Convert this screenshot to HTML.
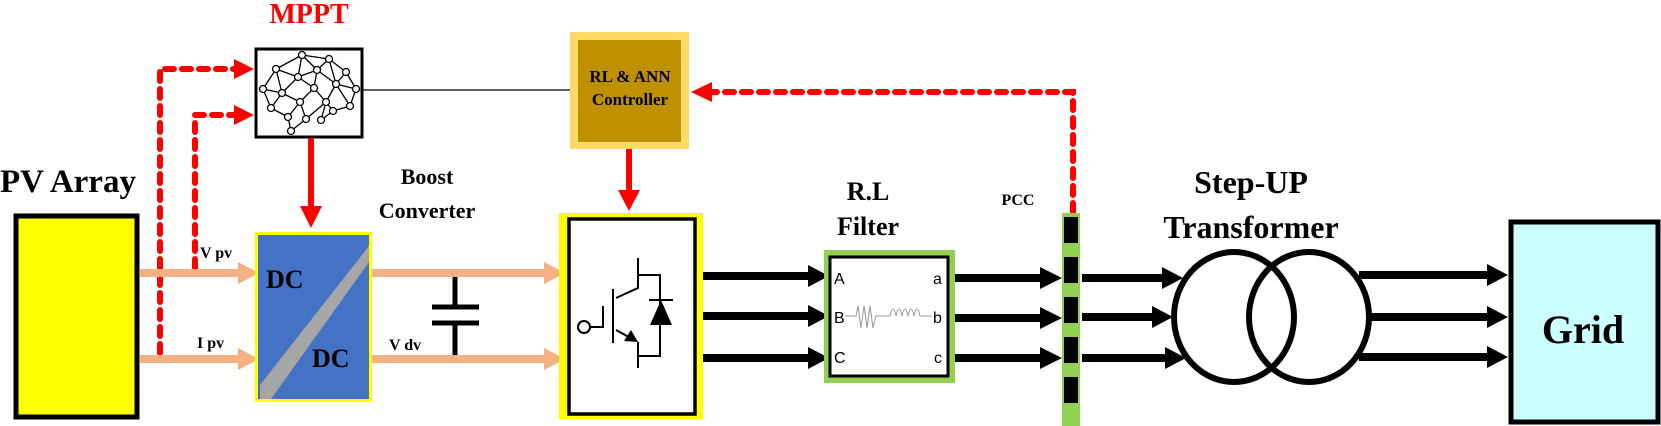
<!DOCTYPE html>
<html><head><meta charset="utf-8"><style>
html,body{margin:0;padding:0;background:#fff;}
svg{display:block;}
text{font-family:"Liberation Serif",serif;font-weight:bold;}
.s{font-family:"Liberation Sans",sans-serif;font-weight:normal;}
</style></head><body>
<svg width="1661" height="426" viewBox="0 0 1661 426" xmlns="http://www.w3.org/2000/svg">

<text x="309" y="23" font-size="28" fill="#ff0000" text-anchor="middle">MPPT</text>
<text x="0" y="192" font-size="33" fill="#000">PV Array</text>
<text x="427" y="184" font-size="22" text-anchor="middle">Boost</text>
<text x="427" y="218" font-size="22" text-anchor="middle">Converter</text>
<text x="868" y="200" font-size="26" text-anchor="middle">R.L</text>
<text x="868" y="235" font-size="26" text-anchor="middle">Filter</text>
<text x="1018" y="205" font-size="16" text-anchor="middle">PCC</text>
<text x="1251" y="193" font-size="32" text-anchor="middle">Step-UP</text>
<text x="1251" y="238" font-size="32" text-anchor="middle">Transformer</text>

<rect x="16" y="216" width="121" height="201" fill="#ffff00" stroke="#000" stroke-width="5"/>

<g fill="none" stroke="#ff0000" stroke-width="6" stroke-dasharray="9,8" stroke-linecap="round">
<path d="M160 353 V69 H236"/>
<path d="M195 268 V115 H236"/>
<path d="M1073 212 V92 H712"/>
</g>
<path d="M234 59 L254 69 L234 79 Z" fill="#ff0000"/>
<path d="M234 105 L254 115 L234 125 Z" fill="#ff0000"/>
<path d="M712 82 L691 92 L712 102 Z" fill="#ff0000"/>

<rect x="256" y="49" width="106" height="88" fill="#fff" stroke="#000" stroke-width="3"/>
<g stroke="#000" stroke-width="1.3" fill="none">
<path d="M302 55 L329 59 M302 55 L276 69 M302 55 L298 77 M302 55 L317 70 M329 59 L317 70 M329 59 L346 72 M329 59 L336 84 M276 69 L298 77 M276 69 L263 89 M276 69 L282 93 M317 70 L298 77 M317 70 L314 88 M317 70 L336 84 M346 72 L336 84 M346 72 L356 89 M298 77 L282 93 M298 77 L314 88 M263 89 L282 93 M263 89 L271 108 M282 93 L300 102 M282 93 L271 108 M314 88 L300 102 M314 88 L326 102 M336 84 L326 102 M336 84 L356 89 M336 84 L350 106 M356 89 L350 106 M300 102 L288 117 M300 102 L306 119 M326 102 L333 111 M326 102 L321 120 M326 102 L306 119 M350 106 L333 111 M271 108 L288 117 M288 117 L291 131 M306 119 L291 131 M321 120 L333 111"/>
</g>
<g fill="#fff" stroke="#000" stroke-width="1.3">
<circle cx="302" cy="55" r="3.5"/><circle cx="329" cy="59" r="3.5"/><circle cx="276" cy="69" r="3.5"/><circle cx="317" cy="70" r="3.5"/><circle cx="346" cy="72" r="3.5"/><circle cx="298" cy="77" r="3.5"/><circle cx="263" cy="89" r="3.5"/><circle cx="282" cy="93" r="3.5"/><circle cx="314" cy="88" r="3.5"/><circle cx="336" cy="84" r="3.5"/><circle cx="356" cy="89" r="3.5"/><circle cx="300" cy="102" r="3.5"/><circle cx="326" cy="102" r="3.5"/><circle cx="271" cy="108" r="3.5"/><circle cx="350" cy="106" r="3.5"/><circle cx="333" cy="111" r="3.5"/><circle cx="288" cy="117" r="3.5"/><circle cx="306" cy="119" r="3.5"/><circle cx="321" cy="120" r="3.5"/><circle cx="291" cy="131" r="3.5"/>
</g>
<line x1="362" y1="90" x2="578" y2="90" stroke="#000" stroke-width="1.3"/>

<rect x="570" y="32" width="119" height="117" fill="#ffd966"/>
<rect x="578" y="40" width="103" height="102" fill="#bf9000"/>
<text x="630" y="82" font-size="17" text-anchor="middle">RL &amp; ANN</text>
<text x="630" y="105" font-size="17" text-anchor="middle">Controller</text>

<line x1="311" y1="138" x2="311" y2="208" stroke="#ff0000" stroke-width="6"/>
<path d="M300 206 L322 206 L311 228 Z" fill="#ff0000"/>
<line x1="629" y1="149" x2="629" y2="192" stroke="#ff0000" stroke-width="6"/>
<path d="M618 190 L640 190 L629 211 Z" fill="#ff0000"/>

<g stroke="#f4b183" stroke-width="8">
<line x1="140" y1="273" x2="240" y2="273"/>
<line x1="140" y1="359" x2="240" y2="359"/>
<line x1="372" y1="273" x2="546" y2="273"/>
<line x1="372" y1="359" x2="546" y2="359"/>
</g>
<g fill="#f4b183">
<path d="M238 262 L259 273 L238 284 Z"/><path d="M238 348 L259 359 L238 370 Z"/>
<path d="M544 262 L565 273 L544 284 Z"/><path d="M544 348 L565 359 L544 370 Z"/>
</g>
<text x="200" y="258" font-size="16">V pv</text>
<text x="197" y="348" font-size="16">I pv</text>
<text x="389" y="350" font-size="16">V dv</text>

<rect x="255" y="232" width="117" height="170" fill="#ffff00"/>
<rect x="258" y="235" width="111" height="164" fill="#4472c4"/>
<polygon points="369,246 369,262 271,399 260,399 260,385" fill="#a6a6a6"/>
<text x="266" y="288" font-size="26">DC</text>
<text x="312" y="367" font-size="26">DC</text>

<g stroke="#000" stroke-width="5">
<line x1="455" y1="277" x2="455" y2="307"/>
<line x1="432" y1="307" x2="479" y2="307"/>
<line x1="432" y1="323" x2="479" y2="323"/>
<line x1="455" y1="323" x2="455" y2="355"/>
</g>

<rect x="559" y="213" width="144" height="206" fill="#ffff00"/>
<rect x="569" y="219" width="126" height="195" fill="#fff" stroke="#000" stroke-width="3.5"/>
<g stroke="#000" stroke-width="2" fill="none">
<path d="M638 258 V275 H660 V356 H638"/>
<path d="M638 342 V368"/>
<path d="M613 289 V343"/>
<path d="M616 298 L638 288 V275"/>
<path d="M616 330 L636 341"/>
<path d="M603 306 V327 H590"/>
<circle cx="584" cy="327" r="6"/>
<path d="M649 300 H673"/>
</g>
<path d="M638 342 L624 341 L631 330 Z" fill="#000"/>
<path d="M661 300 L650 325 L672 325 Z" fill="#000"/>

<g stroke="#000" stroke-width="8">
<line x1="703" y1="276" x2="811" y2="276"/>
<line x1="703" y1="316" x2="811" y2="316"/>
<line x1="703" y1="358" x2="811" y2="358"/>
<line x1="955" y1="278" x2="1042" y2="278"/>
<line x1="955" y1="318" x2="1042" y2="318"/>
<line x1="955" y1="358" x2="1042" y2="358"/>
<line x1="1082" y1="278" x2="1165" y2="278"/>
<line x1="1082" y1="317" x2="1155" y2="317"/>
<line x1="1082" y1="358" x2="1168" y2="358"/>
<line x1="1359" y1="275" x2="1490" y2="275"/>
<line x1="1371" y1="317" x2="1490" y2="317"/>
<line x1="1359" y1="357" x2="1490" y2="357"/>
</g>
<g fill="#000">
<path d="M808 265 L829 276 L808 287 Z"/><path d="M808 305 L829 316 L808 327 Z"/><path d="M808 347 L829 358 L808 369 Z"/>
<path d="M1040 267 L1062 278 L1040 289 Z"/><path d="M1040 307 L1062 318 L1040 329 Z"/><path d="M1040 347 L1062 358 L1040 369 Z"/>
<path d="M1162 267 L1183 278 L1162 289 Z"/><path d="M1152 306 L1173 317 L1152 328 Z"/><path d="M1165 347 L1186 358 L1165 369 Z"/>
<path d="M1487 264 L1508 275 L1487 286 Z"/><path d="M1487 306 L1508 317 L1487 328 Z"/><path d="M1487 346 L1508 357 L1487 368 Z"/>
</g>

<rect x="824" y="250" width="131" height="133" fill="#92d050"/>
<rect x="830" y="257" width="118" height="119" fill="#fff" stroke="#000" stroke-width="3"/>
<text class="s" x="834" y="284" font-size="16">A</text>
<text class="s" x="834" y="323" font-size="16">B</text>
<text class="s" x="834" y="363" font-size="16">C</text>
<text class="s" x="933" y="284" font-size="16">a</text>
<text class="s" x="933" y="323" font-size="16">b</text>
<text class="s" x="934" y="363" font-size="16">c</text>
<path d="M845 316 H856 L858 306 L861 328 L864 306 L867 328 L870 306 L873 328 L876 316 H890 q3,-14 6,0 q3,-14 6,0 q3,-14 6,0 q3,-14 6,0 q3,-14 6,0 H932" fill="none" stroke="#999" stroke-width="1"/>

<rect x="1062" y="213" width="18" height="213" fill="#92d050"/>
<g fill="#000">
<rect x="1064" y="217" width="14" height="26"/><rect x="1064" y="257" width="14" height="26"/>
<rect x="1064" y="297" width="14" height="26"/><rect x="1064" y="337" width="14" height="26"/>
<rect x="1064" y="377" width="14" height="26"/>
</g>

<ellipse cx="1234" cy="317" rx="60" ry="65" fill="none" stroke="#000" stroke-width="6"/>
<ellipse cx="1309" cy="317" rx="60" ry="65" fill="none" stroke="#000" stroke-width="6"/>

<rect x="1511" y="222" width="147" height="200" fill="#ccffff" stroke="#000" stroke-width="5"/>
<text x="1583" y="343" font-size="40" text-anchor="middle">Grid</text>
</svg>
</body></html>
